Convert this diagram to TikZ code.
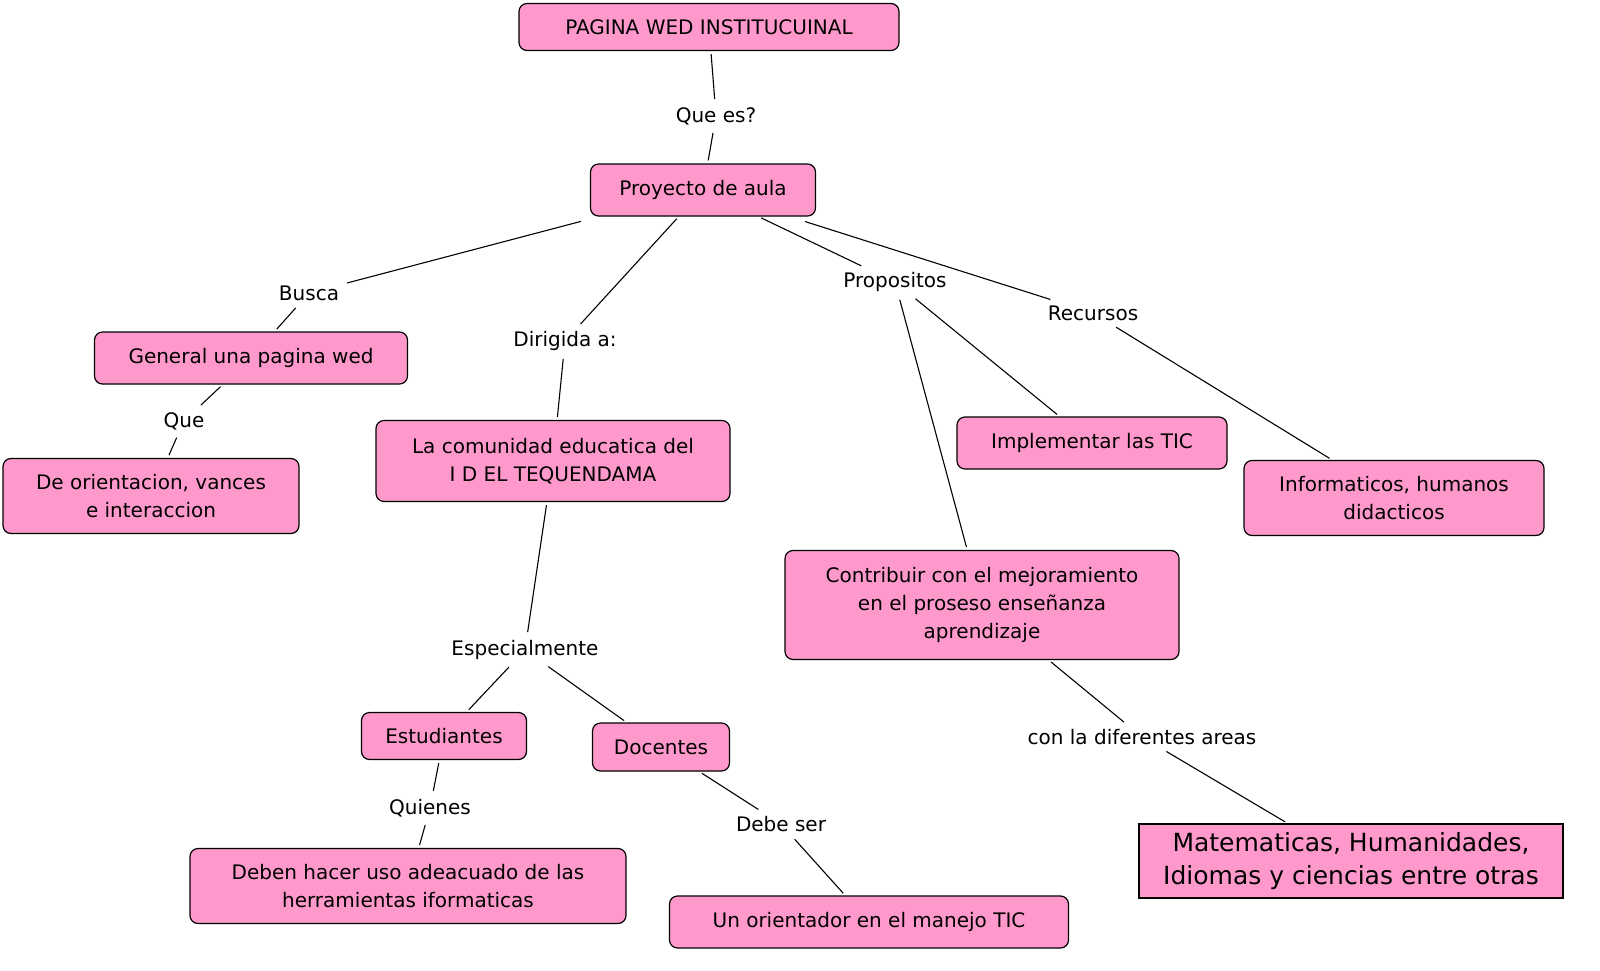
\documentclass[tikz,border=0pt]{standalone}
\usepackage{fontspec}
\setmainfont{DejaVu Sans}
\begin{document}
\begin{tikzpicture}[x=1pt,y=-1pt,
  box/.style={draw=black,line width=1.2pt,fill=pinkc,rounded corners=8pt,align=center,font=\fontsize{20}{28}\selectfont,inner sep=0pt},
  lbl/.style={font=\fontsize{20}{24}\selectfont,inner sep=5pt},
  con/.style={line width=1.1pt,shorten >=3pt,shorten <=3pt}]
\definecolor{pinkc}{RGB}{255,153,204}
\useasboundingbox (0,0) rectangle (1600,971);
\node[box,minimum width=380pt,minimum height=47pt] (t) at (709,27) {PAGINA WED INSTITUCUINAL};
\node[box,minimum width=225pt,minimum height=52pt] (p) at (703,190) {Proyecto de aula};
\node[box,minimum width=313pt,minimum height=52pt] (g) at (251,358) {General una pagina wed};
\node[box,minimum width=296pt,minimum height=75pt] (o) at (151,496) {De orientacion, vances\\e interaccion};
\node[box,minimum width=354pt,minimum height=81pt] (c) at (553,461) {La comunidad educatica del\\I D EL TEQUENDAMA};
\node[box,minimum width=270pt,minimum height=52pt] (i) at (1092,443) {Implementar las TIC};
\node[box,minimum width=300pt,minimum height=75pt] (r) at (1394,498) {Informaticos, humanos\\didacticos};
\node[box,minimum width=394pt,minimum height=109pt] (m) at (982,605) {Contribuir con el mejoramiento\\en el proseso enseñanza\\aprendizaje};
\node[box,minimum width=165pt,minimum height=47pt] (e) at (444,736) {Estudiantes};
\node[box,minimum width=137pt,minimum height=48pt] (d) at (661,747) {Docentes};
\node[box,minimum width=436pt,minimum height=75pt] (h) at (408,886) {Deben hacer uso adeacuado de las\\herramientas iformaticas};
\node[box,minimum width=399pt,minimum height=52pt] (u) at (869,922) {Un orientador en el manejo TIC};
\node[box,rounded corners=0pt,minimum width=424pt,minimum height=74pt,font=\fontsize{25}{33}\selectfont] (a) at (1351,861) {Matematicas, Humanidades,\\Idiomas y ciencias entre otras};
\node[lbl] (l1) at (716,116) {Que es?};
\node[lbl] (l2) at (309,293) {Busca};
\node[lbl] (l3) at (184,421) {Que};
\node[lbl] (l4) at (565,341) {Dirigida a:};
\node[lbl] (l5) at (895,282) {Propositos};
\node[lbl] (l6) at (1093,313) {Recursos};
\node[lbl] (l7) at (525,650) {Especialmente};
\node[lbl] (l8) at (430,808) {Quienes};
\node[lbl] (l9) at (781,824) {Debe ser};
\node[lbl] (l10) at (1142,737) {con la diferentes areas};
\draw[con] (t) -- (l1); \draw[con] (l1) -- (p);
\path (p.south west) ++(-6,4) coordinate (q1);
\path (p.south east) ++(-14,4) coordinate (q2);
\draw[con] (q1) -- (l2); \draw[con] (l2) -- (g);
\draw[con] (g) -- (l3); \draw[con] (l3) -- (o);
\draw[con] (p) -- (l4); \draw[con] (l4) -- (c);
\draw[con] (p) -- (l5);
\draw[con] (q2) -- (l6);
\draw[con] (l5) -- (i); \draw[con] (l5) -- (m);
\draw[con] (l6) -- (r);
\draw[con] (c) -- (l7); \draw[con] (l7) -- (e); \draw[con] (l7) -- (d);
\draw[con] (e) -- (l8); \draw[con] (l8) -- (h);
\draw[con] (d) -- (l9); \draw[con] (l9) -- (u);
\draw[con] (m) -- (l10); \draw[con] (l10) -- (a);
\end{tikzpicture}
\end{document}
